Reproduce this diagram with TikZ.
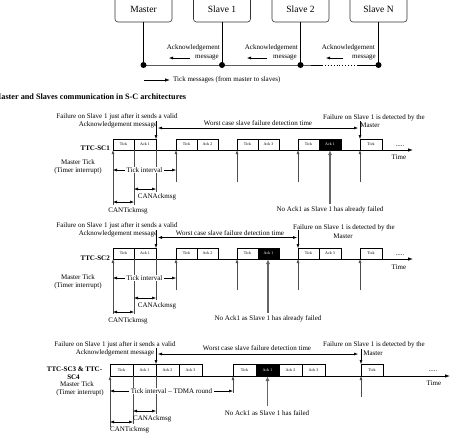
\documentclass[tikz,border=0pt]{standalone}
\usepackage{fontspec}
\setmainfont{Liberation Serif}
\usetikzlibrary{arrows.meta}
\newcommand\slotbox[6][]{%
  \draw[slotline,#1] (#2,#3) rectangle (#4,#5);
  \node[slottext,#1] at ({(#2+#4)/2},{(#3+#5)/2}) {#6};}
\begin{document}
\begin{tikzpicture}[x=1pt,y=-1pt,
  lbl/.style={font=\fontsize{7}{8}\selectfont, inner sep=0pt},
  blbl/.style={font=\fontsize{7}{8}\selectfont\bfseries, inner sep=0pt},
  topbox/.style={draw=black!80, rounded corners=3pt, line width=0.6pt, minimum width=57pt, minimum height=25pt, inner sep=0pt, font=\fontsize{9.5}{10}\selectfont},
  slotline/.style={draw=black, line width=0.5pt},
  slottext/.style={font=\fontsize{4}{4}\selectfont, inner sep=0pt},
  blk/.style={fill=black, text=white},
  ar/.style={line width=0.5pt, -{Latex[length=4pt,width=3pt]}},
  ar2/.style={line width=0.5pt, {Latex[length=4pt,width=3pt]}-{Latex[length=4pt,width=3pt]}},
  tk/.style={draw=black!70, line width=0.6pt, -{Latex[length=4pt,width=3pt]}},
  vl/.style={draw=black!70, line width=0.6pt},
  tl/.style={line width=0.8pt, -{Latex[length=5pt,width=3.5pt]}},
  noack/.style={draw=black!60, line width=1.3pt, -{Latex[length=5pt,width=4pt]}},
]
\useasboundingbox (0,0) rectangle (474,440);

% ---------------- top: master / slaves ----------------
\foreach \n/\t/\x in {m/Master/143.5, sa/Slave 1/222, sb/Slave 2/300.5, sn/Slave N/378.5}{
  \node[topbox] (\n) at (\x,9.5) {\t};
  \coordinate (\n b) at (\x,65);
  \draw[line width=0.8pt] (\n.south) -- (\n b);
}
\draw[line width=0.9pt] (mb) -- (sbb) -- (322,65);
\draw[line width=0.9pt, dotted] (322,65) -- (357,65);
\draw[line width=0.9pt] (357,65) -- (snb);
\foreach \n in {mb,sab,sbb,snb} \fill (\n) circle (3pt);

\node[lbl, anchor=east] (a1) at (220,48) {Acknowledgement};
\node[lbl, anchor=east] (a1m) at (219,57) {message};
\draw[ar] (190,58) -- (169,58);
\node[lbl, anchor=east] (a2) at (298,48) {Acknowledgement};
\node[lbl, anchor=east] (a2m) at (297,57) {message};
\draw[ar] (267,58) -- (247,58);
\node[lbl, anchor=east] (a3) at (375,48) {Acknowledgement};
\node[lbl, anchor=east] (a3m) at (376,57) {message};
\draw[ar] (343,58) -- (326,58);

\draw[line width=0.8pt, -{Latex[length=5pt,width=3.5pt]}] (144,80) -- (170,80);
\node[lbl, anchor=west] (leg) at (173,80) {Tick messages (from master to slaves)};

\node[anchor=west, inner sep=0pt, font=\fontsize{8.2}{9}\selectfont\bfseries] (cap) at (-6.5,97) {Master and Slaves communication in S-C architectures};

% ---------------- panel 1: TTC-SC1 ----------------
\node[lbl] (f1a) at (117,117) {Failure on Slave 1 just after it sends a valid};
\node[lbl] (f1b) at (118,125) {Acknowledgement message};
\draw[ar] (156,121) -- (156,139);
\draw[ar2] (158,128) -- (358,128);
\node[lbl] (w1) at (258,123.5) {Worst case slave failure detection time};
\draw[ar] (360,121) -- (360,139);
\node[lbl] (d1a) at (374,118) {Failure on Slave 1 is detected by the};
\node[lbl] (d1b) at (370,125) {Master};

\slotbox{113}{139}{134}{150}{Tick}
\slotbox{134}{139}{156}{150}{Ack 1}
\slotbox{176}{139}{197}{150}{Tick}
\slotbox{197}{139}{218}{150}{Ack 2}
\slotbox{237}{139}{258}{150}{Tick}
\slotbox{258}{139}{279}{150}{Ack 3}
\slotbox{298}{139}{319}{150}{Tick}
\slotbox[blk]{319}{139}{341}{150}{Ack 1}
\slotbox{360}{139}{382}{150}{Tick}
\draw[tl] (113,150) -- (413,150);
\node[lbl] (dots1) at (400,146) {.....};
\node[lbl] (time1) at (399,157) {Time};
\node[blbl, anchor=east] (sc1) at (110,148) {TTC-SC1};
\node[lbl] (mt1) at (78,162) {Master Tick};
\node[lbl] (ti1) at (78,171) {(Timer interrupt)};

\draw[tk] (113,205) -- (113,150);
\foreach \x in {176,237,298,360} \draw[tk] (\x,182) -- (\x,150);
\draw[vl] (134,150) -- (134,205);
\draw[vl] (156,150) -- (156,192);
\draw[ar2] (113,170) -- node[lbl, fill=white, inner xsep=1.5pt, inner ysep=1pt] (tint1) {Tick interval} (176,170);
\draw[ar2] (134,189) -- (156,189);
\node[lbl] (ca1) at (157,197) {CANAckmsg};
\draw[ar2] (113,202) -- (134,202);
\node[lbl] (ct1) at (128,211) {CANTickmsg};
\draw[noack] (330,204) -- (330,150);
\node[lbl] (na1) at (330,209.5) {No Ack1 as Slave 1 has already failed};

% ---------------- panel 2: TTC-SC2 ----------------
\node[lbl] (f2a) at (117,226) {Failure on Slave 1 just after it sends a valid};
\node[lbl] (f2b) at (118,234) {Acknowledgement message};
\draw[ar] (156,230) -- (156,248);
\draw[ar2] (158,237.5) -- (297,237.5);
\node[lbl] (w2) at (230,233) {Worst case slave failure detection time};
\draw[ar] (298,230) -- (298,248);
\node[lbl] (d2a) at (344,228) {Failure on Slave 1 is detected by the};
\node[lbl] (d2b) at (343,236) {Master};

\slotbox{113}{248}{134}{259}{Tick}
\slotbox{134}{248}{156}{259}{Ack 1}
\slotbox{176}{248}{197}{259}{Tick}
\slotbox{197}{248}{218}{259}{Ack 2}
\slotbox{237}{248}{258}{259}{Tick}
\slotbox[blk]{258}{248}{279}{259}{Ack 1}
\slotbox{298}{248}{319}{259}{Tick}
\slotbox{319}{248}{341}{259}{Ack 3}
\slotbox{360}{248}{382}{259}{Tick}
\draw[tl] (113,259) -- (413,259);
\node[lbl] (dots2) at (400,255) {.....};
\node[lbl] (time2) at (399,267) {Time};
\node[blbl, anchor=east] (sc2) at (110,258) {TTC-SC2};
\node[lbl] (mt2) at (78,277) {Master Tick};
\node[lbl] (ti2) at (78,286) {(Timer interrupt)};

\draw[tk] (113,314) -- (113,259);
\foreach \x in {176,237,298,360} \draw[tk] (\x,290) -- (\x,259);
\draw[vl] (134,259) -- (134,314);
\draw[vl] (156,259) -- (156,300);
\draw[ar2] (113,278) -- node[lbl, fill=white, inner xsep=1.5pt, inner ysep=1pt] (tint2) {Tick interval} (176,278);
\draw[ar2] (134,298) -- (156,298);
\node[lbl] (ca2) at (157,305.5) {CANAckmsg};
\draw[ar2] (113,312) -- (134,312);
\node[lbl] (ct2) at (128,320.5) {CANTickmsg};
\draw[noack] (268,313) -- (268,259);
\node[lbl] (na2) at (268,319) {No Ack1 as Slave 1 has already failed};

% ---------------- panel 3: TTC-SC3 & TTC-SC4 ----------------
\node[lbl] (f3a) at (115,345) {Failure on Slave 1 just after it sends a valid};
\node[lbl] (f3b) at (115,353) {Acknowledgement message};
\draw[ar] (156,348) -- (156,364);
\draw[ar2] (158,354) -- (358,354);
\node[lbl] (w3) at (257,348.5) {Worst case slave failure detection time};
\draw[ar] (361,349) -- (361,364);
\node[lbl] (d3a) at (374,345) {Failure on Slave 1 is detected by the};
\node[lbl] (d3b) at (373,353) {Master};

\slotbox{110}{364}{133}{376}{Tick}
\slotbox{133}{364}{156}{376}{Ack 1}
\slotbox{156}{364}{179}{376}{Ack 2}
\slotbox{179}{364}{202}{376}{Ack 3}
\slotbox{233}{364}{256}{376}{Tick}
\slotbox[blk]{256}{364}{279}{376}{Ack 1}
\slotbox{279}{364}{302}{376}{Ack 2}
\slotbox{302}{364}{325}{376}{Ack 3}
\slotbox{361}{364}{383}{376}{Tick}
\draw[tl] (110,376) -- (450,376);
\node[lbl] (dots3) at (433,371) {.....};
\node[lbl] (time3) at (434,383) {Time};
\node[blbl] (sc3a) at (74.5,369) {TTC-SC3 \& TTC-};
\node[blbl] (sc3b) at (73.5,377) {SC4};
\node[lbl] (mt3) at (77,384) {Master Tick};
\node[lbl] (ti3) at (80,393) {(Timer interrupt)};

\draw[tk] (110,427) -- (110,376);
\draw[tk] (233,393) -- (233,376);
\draw[tk] (361,397) -- (361,376);
\draw[vl] (133,376) -- (133,424);
\draw[vl] (156,376) -- (156,414);
\draw[ar2] (110,391) -- node[lbl, fill=white, inner xsep=1.5pt, inner ysep=1pt] (tint3) {Tick interval -- TDMA round} (233,391);
\draw[ar2] (133,411) -- (156,411);
\node[lbl, anchor=west] (ca3) at (133,418.5) {CANAckmsg};
\draw[ar2] (110,422) -- (133,422);
\node[lbl, anchor=west] (ct3) at (110,429.5) {CANTickmsg};
\draw[noack] (267.5,406) -- (267.5,376);
\node[lbl] (na3) at (267,413) {No Ack1 as Slave 1 has failed};
\end{tikzpicture}
\end{document}
